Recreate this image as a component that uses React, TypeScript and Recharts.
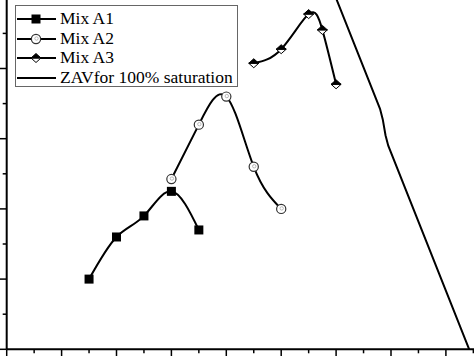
import { LineChart, Line, XAxis, YAxis } from 'recharts';

// moisture content (%) vs dry density (g/cc)
const mixA1X = [9, 10, 11, 12, 13];
const mixA1Y = [1.640, 1.664, 1.676, 1.690, 1.668];
const mixA2X = [12, 13, 14, 15, 16];
const mixA2Y = [1.697, 1.728, 1.744, 1.704, 1.680];
const mixA3X = [15, 16, 17, 17.5, 18];
const mixA3Y = [1.763, 1.771, 1.791, 1.782, 1.751];
const zavX = [17.5, 18, 19.6, 19.7, 19.8, 19.9, 23];
const zavY = [1.819, 1.800, 1.737, 1.731, 1.722, 1.716, 1.594];

const xTicks = [6, 7, 8, 9, 10, 11, 12, 13, 14, 15, 16, 17, 18, 19, 20, 21, 22, 23, 24];
const yTicks = [1.60, 1.62, 1.64, 1.66, 1.68, 1.70, 1.72, 1.74, 1.76, 1.78, 1.80];

const zip = (xs: number[], ys: number[]) => xs.map((x, i) => ({ x, y: ys[i] }));

const a1 = zip(mixA1X, mixA1Y);
const a2 = zip(mixA2X, mixA2Y);
const a3 = zip(mixA3X, mixA3Y);
const zav = zip(zavX, zavY);

const Square = ({ cx, cy }: any) => (
  <rect x={cx - 4.5} y={cy - 4.5} width={9} height={9} fill="#000" />
);

const Circle = ({ cx, cy }: any) => (
  <g>
    <circle cx={cx} cy={cy} r={4.6} fill="#fff" stroke="#333" strokeWidth={1.2} />
    <circle cx={cx + 0.5} cy={cy - 0.5} r={1.7} fill="none" stroke="#aaa" strokeWidth={0.8} />
  </g>
);

const Diamond = ({ cx, cy }: any) => (
  <g>
    <path d={`M${cx - 5},${cy} L${cx},${cy + 4.5} L${cx + 5},${cy} Z`} fill="#fff" stroke="#000" strokeWidth={1} />
    <path d={`M${cx - 5},${cy} L${cx},${cy - 4.5} L${cx + 5},${cy} Z`} fill="#000" stroke="#000" strokeWidth={1} />
  </g>
);

const XTick = ({ x, y, payload }: any) => {
  const major = Math.round(payload.value - 6) % 2 === 0;
  return <line x1={x} y1={y} x2={x} y2={y + (major ? 8 : 4)} stroke="#000" strokeWidth={1.5} />;
};

const YTick = ({ x, y, payload }: any) => {
  const major = Math.round((payload.value - 1.6) / 0.02) % 2 === 0;
  return <line x1={x} y1={y} x2={x - (major ? 8 : 4)} y2={y} stroke="#000" strokeWidth={1.5} />;
};

const legendRows = [
  { name: 'Mix A1', Marker: Square },
  { name: 'Mix A2', Marker: Circle },
  { name: 'Mix A3', Marker: Diamond },
  { name: 'ZAVfor 100% saturation', Marker: null },
];

const LegendBox = () => (
  <div
    style={{
      position: 'absolute',
      left: 15,
      top: 5,
      width: 223,
      height: 82,
      border: '1px solid #666',
      boxSizing: 'border-box',
      paddingTop: 3,
      fontFamily: '"Liberation Serif", serif',
      fontSize: 17.5,
      color: '#000',
      background: '#fff',
    }}
  >
    {legendRows.map(({ name, Marker }) => (
      <div key={name} style={{ display: 'flex', alignItems: 'center', height: 19.5 }}>
        <svg width={44} height={19.5} style={{ flex: 'none' }}>
          <line x1={1} y1={10} x2={40} y2={10} stroke="#000" strokeWidth={2} />
          {Marker && <Marker cx={20} cy={10} />}
        </svg>
        <span style={{ lineHeight: '19.5px', whiteSpace: 'nowrap' }}>{name}</span>
      </div>
    ))}
  </div>
);

export default function App() {
  return (
    <div style={{ position: 'absolute', left: 0, top: 0, width: 474, height: 356, overflow: 'hidden', background: '#fff' }}>
      <div style={{ position: 'absolute', left: 0, top: -20 }}>
        <LineChart width={520} height={400} margin={{ top: 18.3, right: 19.2, bottom: 29.7, left: 0 }}>
          <XAxis
            type="number"
            dataKey="x"
            domain={[6, 24]}
            ticks={xTicks}
            allowDataOverflow
            height={1}
            tickSize={0}
            tickMargin={0}
            tickLine={false}
            tick={XTick}
            axisLine={{ stroke: '#000', strokeWidth: 2 }}
          />
          <YAxis
            type="number"
            dataKey="y"
            domain={[1.6, 1.8]}
            ticks={yTicks}
            allowDataOverflow
            width={6.7}
            tickSize={0}
            tickMargin={0}
            tickLine={false}
            tick={YTick}
            axisLine={{ stroke: '#000', strokeWidth: 2 }}
          />
          <Line data={a1} dataKey="y" type="natural" stroke="#000" strokeWidth={2}
            dot={(p: any) => <Square key={p.key} cx={p.cx} cy={p.cy} />} isAnimationActive={false} />
          <Line data={a2} dataKey="y" type="natural" stroke="#000" strokeWidth={2}
            dot={(p: any) => <Circle key={p.key} cx={p.cx} cy={p.cy} />} isAnimationActive={false} />
          <Line data={a3} dataKey="y" type="natural" stroke="#000" strokeWidth={2}
            dot={(p: any) => <Diamond key={p.key} cx={p.cx} cy={p.cy} />} isAnimationActive={false} />
          <Line data={zav} dataKey="y" type="linear" stroke="#000" strokeWidth={2}
            dot={false} isAnimationActive={false} />
        </LineChart>
      </div>
      <LegendBox />
    </div>
  );
}
